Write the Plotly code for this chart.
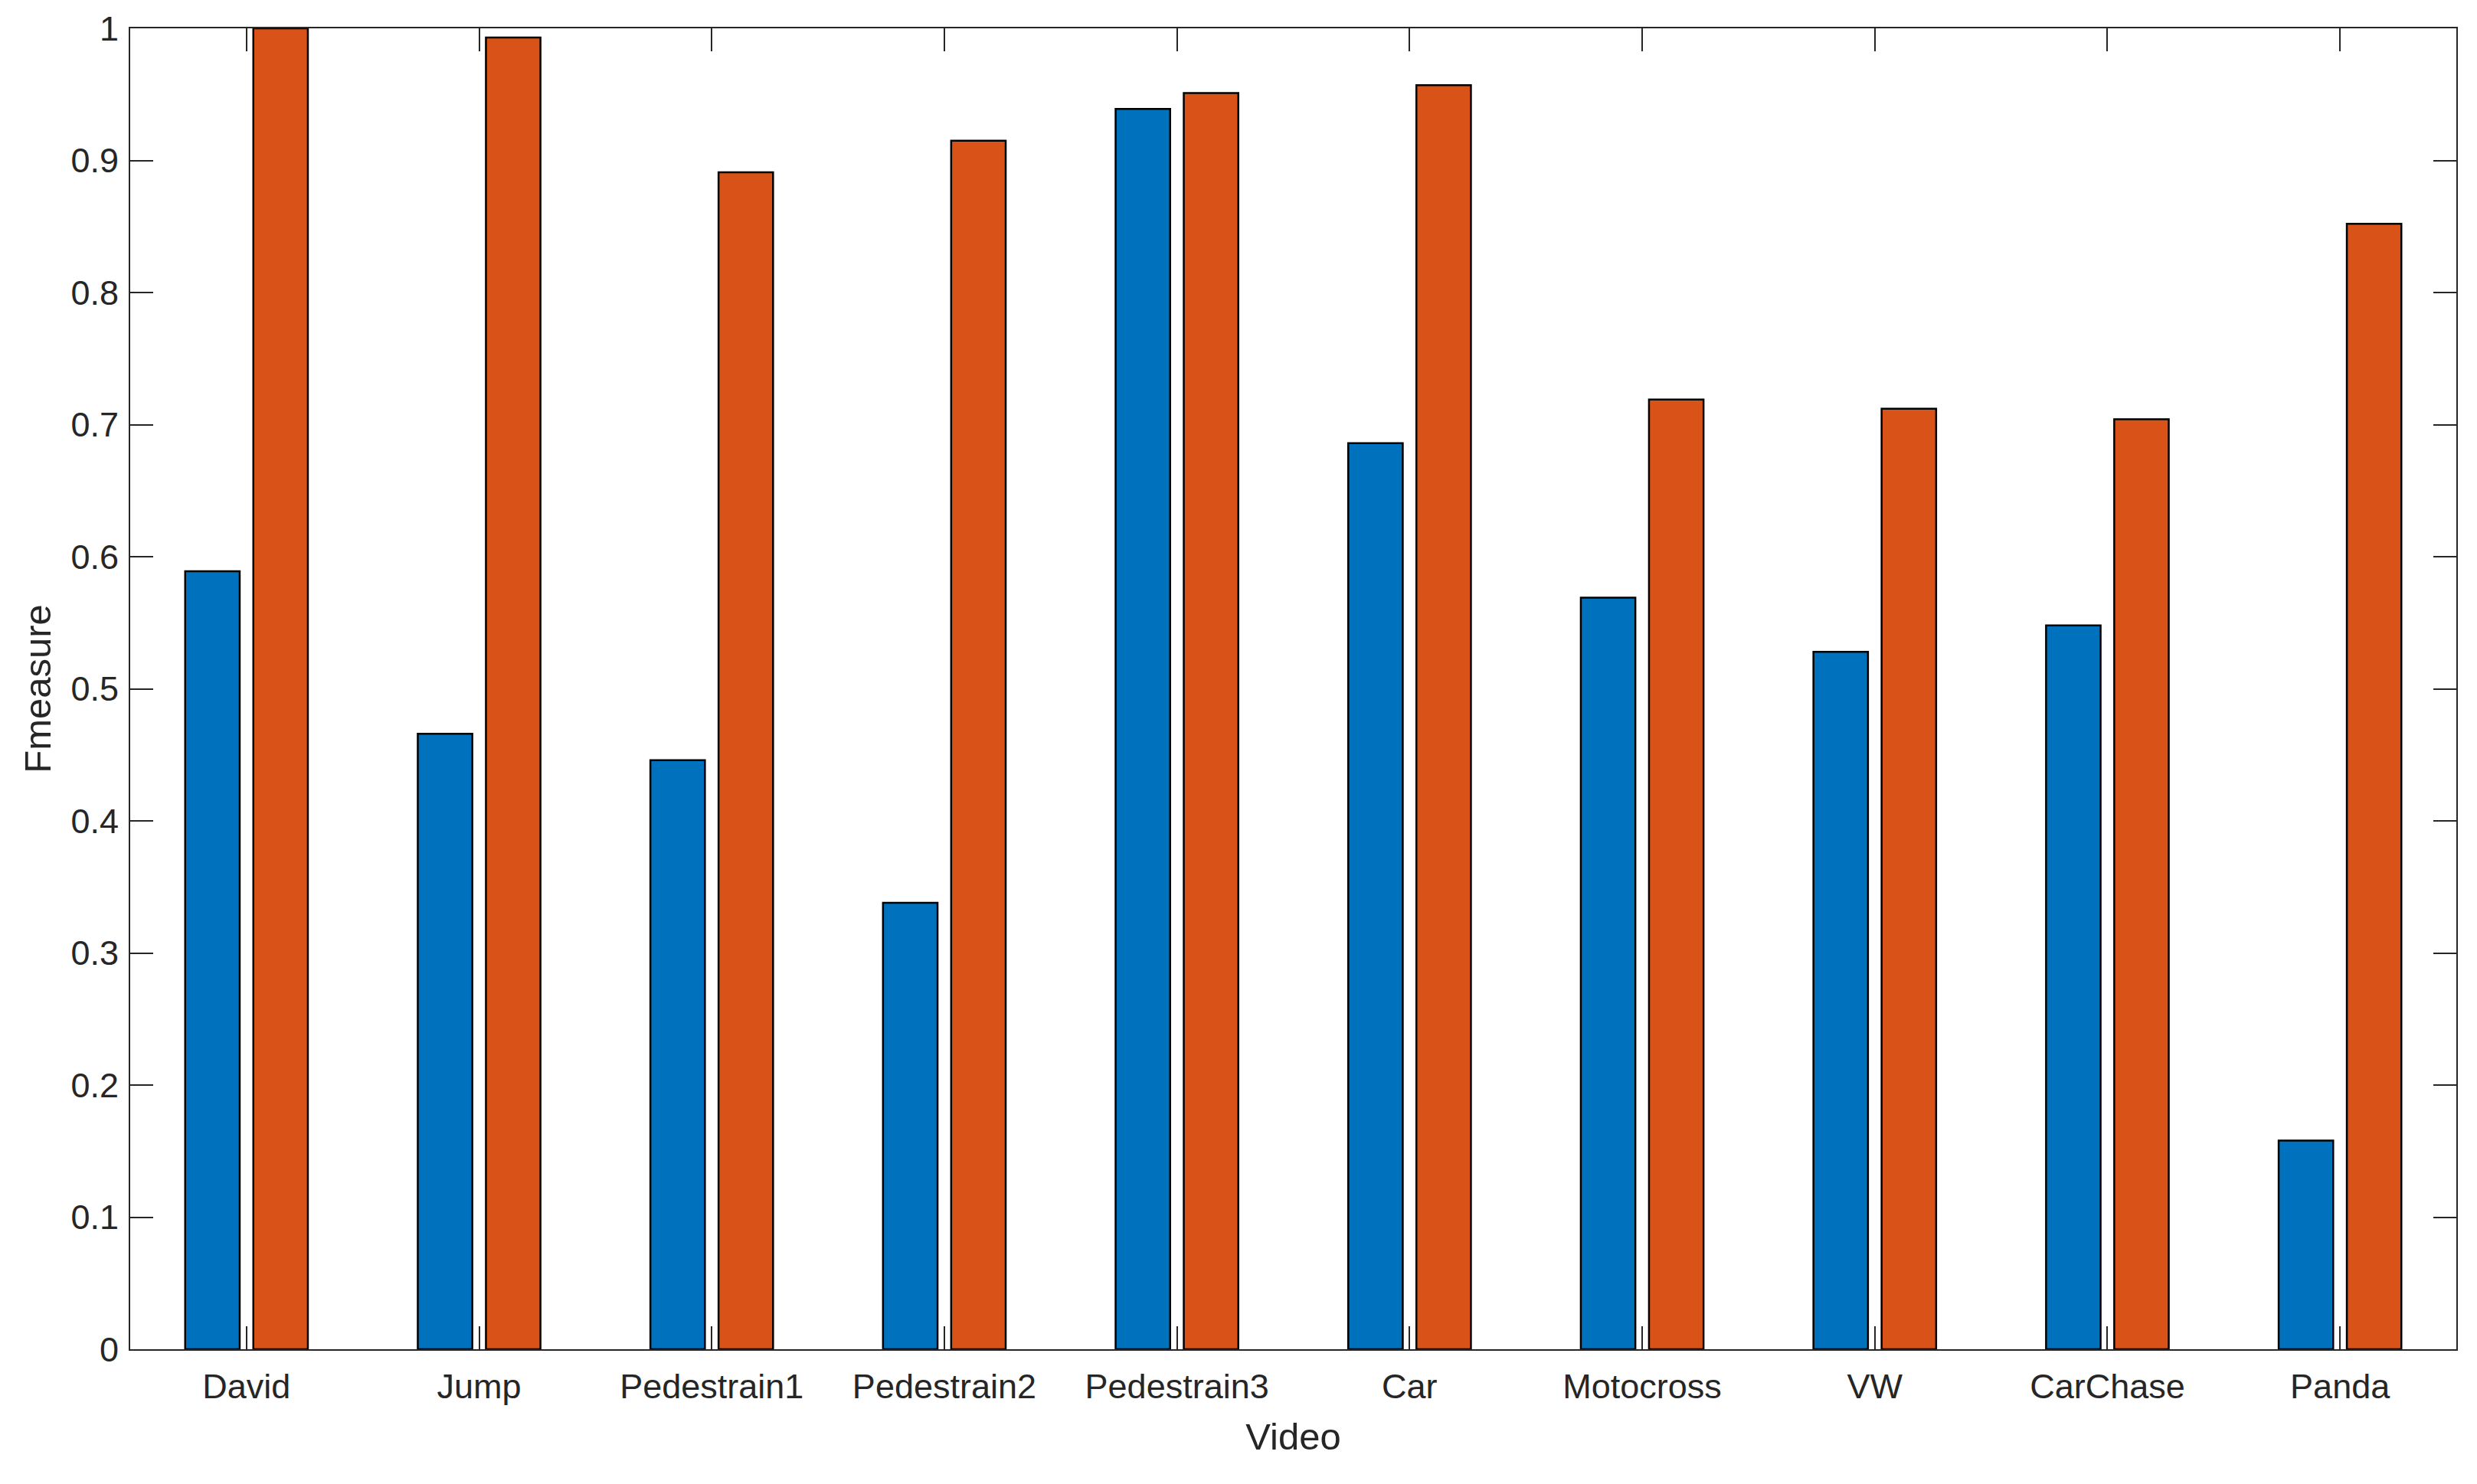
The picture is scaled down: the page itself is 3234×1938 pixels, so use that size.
import plotly.graph_objects as go

# F-measure per video, two methods
videos = ['David', 'Jump', 'Pedestrain1', 'Pedestrain2', 'Pedestrain3',
          'Car', 'Motocross', 'VW', 'CarChase', 'Panda']
fmeasure_a = [0.589, 0.466, 0.446, 0.338, 0.939, 0.686, 0.569, 0.528, 0.548, 0.158]
fmeasure_b = [1.000, 0.993, 0.891, 0.915, 0.951, 0.957, 0.719, 0.712, 0.704, 0.852]
y_ticks = [0, 0.1, 0.2, 0.3, 0.4, 0.5, 0.6, 0.7, 0.8, 0.9, 1]

ink = '#262626'
font = 'Liberation Sans, Arial, sans-serif'

fig = go.Figure()
fig.add_trace(go.Bar(x=videos, y=fmeasure_a, marker_color='#0072BD',
                     marker_line=dict(color='black', width=2.5)))
fig.add_trace(go.Bar(x=videos, y=fmeasure_b, marker_color='#D95319',
                     marker_line=dict(color='black', width=2.5)))

fig.update_layout(
    width=3234, height=1938,
    margin=dict(l=170, r=27, t=32, b=176),
    barmode='group', bargap=0.414, bargroupgap=0.2,
    showlegend=False,
    paper_bgcolor='white', plot_bgcolor='white',
    font=dict(family=font, size=45, color=ink),
)
fig.update_xaxes(
    title=dict(text='Video', font=dict(size=49, color=ink), standoff=24),
    showline=True, linecolor=ink, linewidth=2, mirror='ticks',
    ticks='inside', ticklen=30, tickwidth=2, tickcolor=ink,
    ticklabelstandoff=8,
    showgrid=False, zeroline=False, range=[-0.5, 9.5],
)
fig.update_yaxes(
    title=dict(text='Fmeasure', font=dict(size=49, color=ink), standoff=10),
    showline=True, linecolor=ink, linewidth=2, mirror='ticks',
    ticks='inside', ticklen=30, tickwidth=2, tickcolor=ink,
    tickvals=y_ticks, ticktext=[f'{v:g}' for v in y_ticks],
    ticklabelstandoff=4, ticklabeloverflow='allow',
    showgrid=False, zeroline=False, range=[0, 1],
)

# drop the default page margin so the figure sits at the window corner
fig.write_html("out.html", config={'displayModeBar': False},
               post_script="document.body.style.margin='0';")
